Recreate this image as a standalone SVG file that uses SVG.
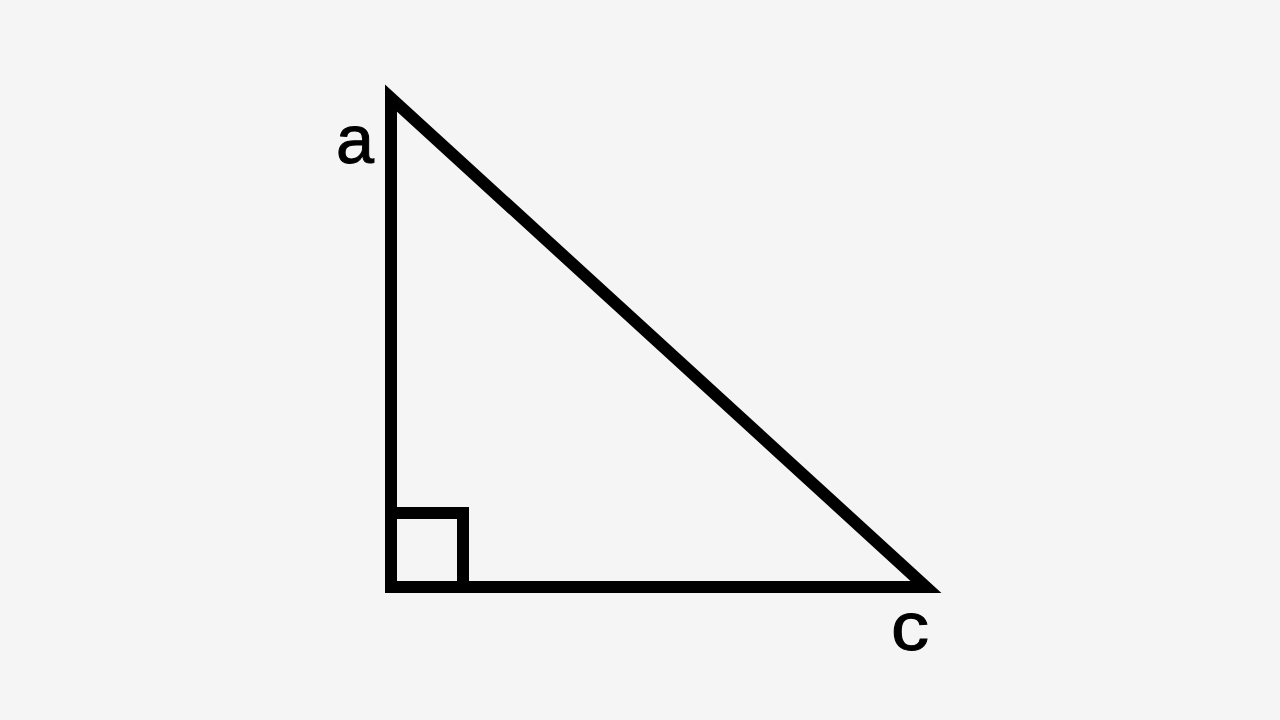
<svg xmlns="http://www.w3.org/2000/svg" width="1280" height="720" viewBox="0 0 1280 720">
<style>
.edge{fill:none;stroke:#000;stroke-width:12;stroke-linejoin:miter;stroke-miterlimit:10}
.lbl{font-family:"Liberation Sans",Arial,sans-serif;font-size:68px;fill:#000;stroke:#000;stroke-width:1}
</style>
<rect width="1280" height="720" fill="#f5f5f5"/>
<g id="triangle">
<polygon class="edge" points="391,98 391,587 926,587"/>
</g>
<g id="right-angle">
<polyline class="edge" points="391,513 463,513 463,587"/>
</g>
<g id="label-a"><text class="lbl" x="336" y="163" textLength="38" lengthAdjust="spacingAndGlyphs">a</text></g>
<g id="label-c"><text class="lbl" x="891" y="650" textLength="38" lengthAdjust="spacingAndGlyphs">c</text></g>
</svg>
